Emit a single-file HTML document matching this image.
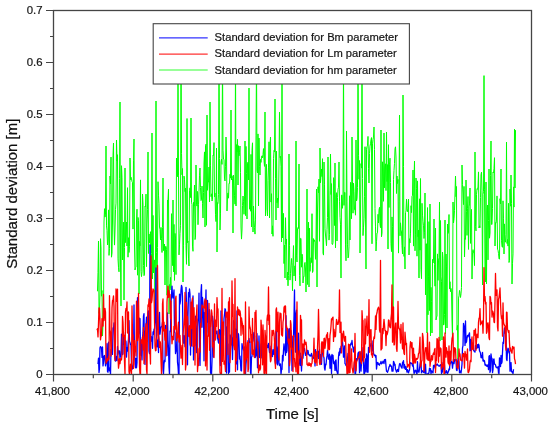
<!DOCTYPE html>
<html><head><meta charset="utf-8"><style>
html,body{margin:0;padding:0;background:#fff;width:550px;height:425px;overflow:hidden}
svg{display:block;filter:blur(0.35px);font-family:"Liberation Sans",Arial,sans-serif}
text{stroke:currentColor;stroke-width:0.2px}
</style></head><body>
<svg width="550" height="425" viewBox="0 0 550 425">
<defs><clipPath id="pc"><rect x="53.5" y="10.5" width="478.0" height="364.0"/></clipPath></defs>
<g clip-path="url(#pc)" fill="none" stroke-width="1.0" stroke-linejoin="round">
<polyline stroke="#00ff00" points="97.50,291.3 98.00,272.5 98.50,241.0 99.00,313.4 99.50,309.2 100.00,293.0 100.50,238.7 101.00,248.0 101.50,296.2 102.00,290.5 102.50,336.0 103.00,323.0 103.50,315.7 104.00,222.0 104.50,208.7 105.00,217.1 105.50,214.1 106.00,146.0 106.50,225.9 107.00,230.5 107.50,245.0 108.00,240.0 108.50,209.9 109.00,255.4 109.50,248.5 110.00,176.0 110.50,183.9 111.00,157.1 111.50,257.2 112.00,253.0 112.50,221.0 113.00,155.8 113.50,143.0 114.00,223.0 114.50,245.1 115.00,230.0 115.50,209.4 116.00,203.1 116.50,140.0 117.00,161.0 117.50,154.7 118.00,258.9 118.50,267.3 119.00,271.8 119.50,178.5 120.00,102.0 120.50,263.0 121.00,306.0 121.50,165.7 122.00,177.8 122.50,260.0 123.00,237.9 123.50,222.2 124.00,300.0 124.50,247.5 125.00,168.0 125.50,242.6 126.00,232.2 126.50,222.0 127.00,246.0 127.50,187.7 128.00,257.2 128.50,237.7 129.00,252.5 129.50,246.7 130.00,158.0 130.50,179.7 131.00,177.2 131.50,178.9 132.00,181.5 132.50,182.3 133.00,229.1 133.50,160.8 134.00,139.0 134.50,245.0 135.00,270.0 135.50,267.6 136.00,267.1 136.50,221.0 137.00,209.2 137.50,275.2 138.00,217.4 138.50,220.6 139.00,294.0 139.50,241.4 140.00,245.8 140.50,179.9 141.00,271.4 141.50,276.6 142.00,271.9 142.50,194.0 143.00,204.0 143.50,265.6 144.00,275.7 144.50,274.0 145.00,206.2 145.50,207.0 146.00,194.1 146.50,266.6 147.00,224.0 147.50,209.5 148.00,152.0 148.50,253.5 149.00,234.0 149.50,242.9 150.00,237.8 150.50,231.7 151.00,300.0 151.50,253.5 152.00,133.0 152.50,278.9 153.00,215.4 153.50,273.0 154.00,263.6 154.50,259.9 155.00,310.0 155.50,257.0 156.00,101.0 156.50,252.7 157.00,300.0 157.50,247.6 158.00,181.7 158.50,195.8 159.00,203.7 159.50,227.0 160.00,229.5 160.50,239.9 161.00,227.4 161.50,238.3 162.00,252.5 162.50,227.6 163.00,178.0 163.50,250.6 164.00,248.0 164.50,244.0 165.00,285.0 165.50,246.6 166.00,246.2 166.50,249.6 167.00,295.3 167.50,200.0 168.00,199.4 168.50,189.2 169.00,314.0 169.50,284.5 170.00,288.3 170.50,277.4 171.00,290.0 171.50,213.7 172.00,251.1 172.50,265.6 173.00,200.0 173.50,271.8 174.00,224.4 174.50,280.4 175.00,233.4 175.50,238.1 176.00,274.6 176.50,158.0 177.00,174.3 177.50,176.7 178.00,70.0 178.50,175.1 179.00,254.9 179.50,244.8 180.00,233.6 180.50,225.8 181.00,40.0 181.50,153.3 182.00,174.8 182.50,168.5 183.00,282.0 183.50,245.1 184.00,176.1 184.50,179.6 185.00,191.6 185.50,188.1 186.00,245.4 186.50,264.3 187.00,118.5 187.50,242.7 188.00,241.1 188.50,258.1 189.00,266.0 189.50,190.6 190.00,187.8 190.50,197.6 191.00,118.0 191.50,202.2 192.00,204.6 192.50,246.1 193.00,251.3 193.50,202.3 194.00,206.1 194.50,185.0 195.00,239.6 195.50,237.1 196.00,165.0 196.50,204.3 197.00,206.1 197.50,191.4 198.00,224.7 198.50,204.8 199.00,191.6 199.50,175.8 200.00,168.0 200.50,187.5 201.00,200.6 201.50,199.7 202.00,186.1 202.50,203.7 203.00,218.0 203.50,192.3 204.00,163.0 204.50,151.9 205.00,227.0 205.50,145.5 206.00,144.2 206.50,225.3 207.00,115.0 207.50,190.3 208.00,181.7 208.50,182.2 209.00,167.0 209.50,201.9 210.00,102.0 210.50,165.9 211.00,196.6 211.50,193.8 212.00,201.0 212.50,199.7 213.00,155.0 213.50,155.6 214.00,142.6 214.50,196.9 215.00,193.1 215.50,214.4 216.00,221.6 216.50,148.1 217.00,252.0 217.50,202.6 218.00,203.4 218.50,194.4 219.00,60.0 219.50,158.7 220.00,230.0 220.50,213.1 221.00,161.9 221.50,159.1 222.00,164.4 222.50,60.0 223.00,150.2 223.50,159.1 224.00,159.8 224.50,178.0 225.00,181.0 225.50,166.2 226.00,137.0 226.50,154.0 227.00,211.0 227.50,196.0 228.00,192.9 228.50,198.2 229.00,183.3 229.50,183.5 230.00,174.3 230.50,178.1 231.00,110.0 231.50,180.0 232.00,175.7 232.50,178.6 233.00,233.0 233.50,175.1 234.00,185.6 234.50,195.6 235.00,204.2 235.50,60.0 236.00,206.0 236.50,144.6 237.00,152.1 237.50,139.3 238.00,185.0 238.50,145.7 239.00,155.9 239.50,152.4 240.00,146.0 240.50,172.8 241.00,227.0 241.50,239.1 242.00,230.0 242.50,205.6 243.00,196.0 243.50,201.3 244.00,214.3 244.50,196.9 245.00,141.0 245.50,215.6 246.00,146.4 246.50,173.6 247.00,219.0 247.50,163.2 248.00,162.2 248.50,180.0 249.00,88.0 249.50,209.2 250.00,200.2 250.50,211.2 251.00,154.4 251.50,226.9 252.00,150.3 252.50,142.8 253.00,232.0 253.50,206.0 254.00,220.7 254.50,227.6 255.00,234.1 255.50,219.1 256.00,135.9 256.50,60.0 257.00,170.2 257.50,173.0 258.00,133.9 258.50,206.0 259.00,138.0 259.50,166.5 260.00,175.0 260.50,159.4 261.00,162.4 261.50,157.1 262.00,155.8 262.50,157.9 263.00,154.5 263.50,148.6 264.00,160.6 264.50,166.4 265.00,112.0 265.50,215.9 266.00,172.5 266.50,164.4 267.00,209.0 267.50,215.9 268.00,180.4 268.50,167.1 269.00,141.8 269.50,217.9 270.00,145.0 270.50,137.0 271.00,202.1 271.50,193.7 272.00,234.0 272.50,225.8 273.00,236.3 273.50,158.7 274.00,150.4 274.50,152.0 275.00,99.0 275.50,178.7 276.00,220.0 276.50,151.2 277.00,202.8 277.50,198.2 278.00,208.0 278.50,199.0 279.00,163.0 279.50,112.0 280.00,157.5 280.50,156.3 281.00,166.3 281.50,242.0 282.00,60.0 282.50,237.9 283.00,225.2 283.50,213.4 284.00,263.6 284.50,245.2 285.00,278.0 285.50,217.7 286.00,244.0 286.50,239.0 287.00,279.9 287.50,272.1 288.00,285.8 288.50,275.3 289.00,154.0 289.50,245.2 290.00,280.1 290.50,273.5 291.00,266.0 291.50,258.5 292.00,265.5 292.50,290.7 293.00,262.7 293.50,245.6 294.00,276.0 294.50,267.6 295.00,265.8 295.50,281.0 296.00,141.0 296.50,255.9 297.00,262.0 297.50,228.3 298.00,227.5 298.50,228.5 299.00,164.0 299.50,275.5 300.00,285.9 300.50,238.3 301.00,238.5 301.50,267.2 302.00,254.1 302.50,256.2 303.00,283.0 303.50,276.6 304.00,276.8 304.50,264.1 305.00,262.4 305.50,269.0 306.00,292.0 306.50,259.0 307.00,189.0 307.50,284.5 308.00,231.6 308.50,222.2 309.00,287.0 309.50,228.2 310.00,271.4 310.50,264.7 311.00,257.7 311.50,262.5 312.00,213.7 312.50,272.5 313.00,271.0 313.50,238.6 314.00,241.6 314.50,239.9 315.00,242.0 315.50,259.3 316.00,239.9 316.50,189.0 317.00,287.0 317.50,210.0 318.00,186.8 318.50,192.8 319.00,179.0 319.50,241.3 320.00,148.0 320.50,182.8 321.00,174.9 321.50,169.1 322.00,176.6 322.50,158.7 323.00,253.0 323.50,255.1 324.00,162.0 324.50,184.8 325.00,228.8 325.50,235.0 326.00,239.9 326.50,245.7 327.00,229.4 327.50,217.6 328.00,157.0 328.50,215.0 329.00,240.1 329.50,234.6 330.00,190.2 330.50,154.0 331.00,194.5 331.50,183.6 332.00,244.1 332.50,244.6 333.00,242.6 333.50,177.7 334.00,179.8 334.50,225.5 335.00,163.0 335.50,247.8 336.00,195.9 336.50,192.7 337.00,241.0 337.50,197.5 338.00,189.3 338.50,187.3 339.00,162.0 339.50,201.2 340.00,217.3 340.50,224.2 341.00,278.0 341.50,195.2 342.00,194.9 342.50,208.3 343.00,198.0 343.50,60.0 344.00,205.4 344.50,192.4 345.00,192.4 345.50,244.9 346.00,260.8 346.50,131.0 347.00,201.9 347.50,244.9 348.00,258.0 348.50,257.2 349.00,246.9 349.50,195.8 350.00,240.0 350.50,182.4 351.00,185.0 351.50,218.7 352.00,137.0 352.50,181.8 353.00,213.2 353.50,183.2 354.00,191.7 354.50,209.6 355.00,209.2 355.50,215.2 356.00,140.0 356.50,201.0 357.00,198.8 357.50,187.7 358.00,60.0 358.50,155.2 359.00,179.3 359.50,160.5 360.00,253.0 360.50,217.0 361.00,163.6 361.50,168.1 362.00,60.0 362.50,178.5 363.00,235.6 363.50,227.2 364.00,218.8 364.50,196.7 365.00,146.7 365.50,219.9 366.00,269.0 366.50,149.2 367.00,146.6 367.50,145.8 368.00,136.4 368.50,168.6 369.00,183.0 369.50,153.4 370.00,146.1 370.50,143.8 371.00,139.6 371.50,137.6 372.00,243.8 372.50,143.8 373.00,139.3 373.50,137.1 374.00,127.0 374.50,149.5 375.00,208.6 375.50,226.9 376.00,251.0 376.50,241.8 377.00,233.0 377.50,232.8 378.00,214.3 378.50,222.9 379.00,210.1 379.50,207.3 380.00,223.9 380.50,227.7 381.00,130.0 381.50,236.8 382.00,233.1 382.50,161.8 383.00,167.8 383.50,201.3 384.00,133.0 384.50,187.8 385.00,166.8 385.50,163.8 386.00,190.6 386.50,132.0 387.00,181.6 387.50,164.6 388.00,249.0 388.50,144.7 389.00,207.5 389.50,164.2 390.00,158.2 390.50,182.5 391.00,243.7 391.50,251.6 392.00,216.9 392.50,226.4 393.00,312.0 393.50,179.6 394.00,170.3 394.50,163.3 395.00,148.7 395.50,146.8 396.00,157.0 396.50,193.5 397.00,176.0 397.50,183.5 398.00,179.4 398.50,253.1 399.00,201.8 399.50,115.0 400.00,235.8 400.50,222.8 401.00,229.7 401.50,232.0 402.00,245.7 402.50,254.0 403.00,95.0 403.50,166.4 404.00,256.4 404.50,246.9 405.00,269.0 405.50,212.6 406.00,211.0 406.50,199.0 407.00,209.7 407.50,211.7 408.00,208.4 408.50,199.1 409.00,255.0 409.50,238.7 410.00,242.9 410.50,233.1 411.00,205.7 411.50,212.6 412.00,196.3 412.50,195.4 413.00,170.0 413.50,246.1 414.00,180.0 414.50,161.0 415.00,250.8 415.50,234.1 416.00,178.0 416.50,188.7 417.00,256.2 417.50,180.9 418.00,236.7 418.50,230.0 419.00,278.0 419.50,198.8 420.00,250.2 420.50,178.5 421.00,269.5 421.50,278.7 422.00,203.3 422.50,215.2 423.00,221.2 423.50,225.8 424.00,238.5 424.50,232.2 425.00,193.0 425.50,294.8 426.00,243.7 426.50,243.9 427.00,333.0 427.50,207.6 428.00,314.8 428.50,276.9 429.00,221.6 429.50,310.6 430.00,204.0 430.50,335.9 431.00,287.4 431.50,301.5 432.00,333.0 432.50,259.4 433.00,263.0 433.50,259.0 434.00,219.0 434.50,264.5 435.00,286.2 435.50,228.1 436.00,320.0 436.50,317.1 437.00,316.0 437.50,253.9 438.00,280.4 438.50,260.1 439.00,257.7 439.50,202.0 440.00,341.1 440.50,220.5 441.00,276.9 441.50,281.3 442.00,340.0 442.50,252.1 443.00,258.4 443.50,325.1 444.00,324.4 444.50,314.4 445.00,220.0 445.50,333.8 446.00,254.0 446.50,266.1 447.00,328.0 447.50,224.0 448.00,233.5 448.50,232.2 449.00,214.5 449.50,288.9 450.00,281.7 450.50,291.7 451.00,288.4 451.50,291.9 452.00,320.0 452.50,337.2 453.00,202.0 453.50,223.0 454.00,218.8 454.50,210.3 455.00,193.0 455.50,176.0 456.00,196.7 456.50,186.5 457.00,330.2 457.50,325.4 458.00,359.0 458.50,298.1 459.00,295.8 459.50,290.4 460.00,293.1 460.50,297.5 461.00,293.9 461.50,287.4 462.00,165.0 462.50,184.4 463.00,193.0 463.50,204.6 464.00,186.4 464.50,257.0 465.00,238.0 465.50,239.4 466.00,180.0 466.50,211.3 467.00,235.4 467.50,208.3 468.00,196.5 468.50,249.4 469.00,206.9 469.50,203.9 470.00,188.0 470.50,243.4 471.00,217.8 471.50,209.4 472.00,279.0 472.50,252.2 473.00,249.6 473.50,252.0 474.00,253.9 474.50,265.6 475.00,152.0 475.50,226.7 476.00,230.9 476.50,194.3 477.00,188.8 477.50,189.4 478.00,187.0 478.50,171.9 479.00,228.0 479.50,225.8 480.00,227.7 480.50,197.3 481.00,174.8 481.50,172.2 482.00,190.6 482.50,285.0 483.00,194.4 483.50,191.7 484.00,75.6 484.50,189.9 485.00,272.6 485.50,281.9 486.00,182.0 486.50,284.0 487.00,210.9 487.50,205.0 488.00,259.9 488.50,220.5 489.00,169.0 489.50,238.2 490.00,233.0 490.50,175.4 491.00,141.0 491.50,224.4 492.00,224.5 492.50,208.3 493.00,172.0 493.50,172.9 494.00,168.5 494.50,157.7 495.00,246.0 495.50,222.6 496.00,223.1 496.50,219.0 497.00,195.9 497.50,249.2 498.00,250.2 498.50,253.3 499.00,258.7 499.50,259.2 500.00,198.7 500.50,203.9 501.00,169.0 501.50,240.8 502.00,246.5 502.50,247.3 503.00,200.8 503.50,218.8 504.00,254.0 504.50,223.9 505.00,241.2 505.50,242.2 506.00,234.6 506.50,142.0 507.00,243.5 507.50,239.5 508.00,246.1 508.50,203.3 509.00,262.5 509.50,260.6 510.00,189.1 510.50,206.2 511.00,175.0 511.50,203.3 512.00,284.0 512.50,263.3 513.00,253.9 513.50,186.9 514.00,207.1 514.50,129.0 515.00,188.0 515.50,130.1"/>
<polyline stroke="#0000ff" stroke-width="1.3" points="98.00,364.1 98.50,358.2 99.00,372.4 99.50,368.2 100.00,347.7 100.50,346.6 101.00,347.2 101.50,348.3 102.00,357.4 102.50,347.0 103.00,365.9 103.50,362.1 104.00,356.4 104.50,355.5 105.00,358.4 105.50,365.8 106.00,362.4 106.50,363.6 107.00,343.7 107.50,371.4 108.00,372.3 108.50,342.1 109.00,368.9 109.50,370.8 110.00,368.0 110.50,374.5 111.00,349.4 111.50,352.0 112.00,346.6 112.50,354.4 113.00,327.9 113.50,329.4 114.00,322.9 114.50,335.6 115.00,358.7 115.50,361.2 116.00,359.4 116.50,356.4 117.00,360.7 117.50,346.5 118.00,354.2 118.50,351.3 119.00,350.8 119.50,350.8 120.00,358.8 120.50,354.2 121.00,356.4 121.50,334.2 122.00,346.2 122.50,354.5 123.00,354.0 123.50,332.1 124.00,343.2 124.50,344.7 125.00,343.5 125.50,340.5 126.00,341.6 126.50,357.1 127.00,347.9 127.50,351.1 128.00,344.6 128.50,338.6 129.00,320.6 129.50,341.3 130.00,342.7 130.50,344.6 131.00,345.1 131.50,364.1 132.00,367.3 132.50,369.0 133.00,367.6 133.50,359.4 134.00,305.0 134.50,357.4 135.00,358.3 135.50,367.8 136.00,358.3 136.50,367.8 137.00,362.6 137.50,297.7 138.00,336.2 138.50,334.9 139.00,332.7 139.50,318.1 140.00,318.7 140.50,355.2 141.00,342.9 141.50,352.4 142.00,359.9 142.50,337.9 143.00,332.4 143.50,315.8 144.00,313.7 144.50,358.4 145.00,364.4 145.50,331.2 146.00,325.7 146.50,317.1 147.00,323.8 147.50,317.2 148.00,312.7 148.50,310.9 149.00,351.1 149.50,353.5 150.00,245.0 150.50,328.4 151.00,341.0 151.50,336.6 152.00,340.8 152.50,348.3 153.00,332.0 153.50,334.3 154.00,329.3 154.50,328.6 155.00,322.7 155.50,320.6 156.00,268.0 156.50,346.7 157.00,346.8 157.50,341.5 158.00,339.4 158.50,352.6 159.00,317.6 159.50,312.3 160.00,334.2 160.50,329.5 161.00,327.1 161.50,326.8 162.00,326.0 162.50,322.0 163.00,369.3 163.50,373.8 164.00,363.8 164.50,360.1 165.00,361.6 165.50,325.3 166.00,326.2 166.50,337.5 167.00,355.4 167.50,312.8 168.00,340.6 168.50,348.1 169.00,366.9 169.50,374.5 170.00,330.9 170.50,331.7 171.00,302.1 171.50,295.1 172.00,286.1 172.50,296.4 173.00,298.0 173.50,294.8 174.00,290.0 174.50,332.1 175.00,332.9 175.50,353.5 176.00,351.0 176.50,349.2 177.00,335.2 177.50,362.2 178.00,366.3 178.50,374.5 179.00,374.5 179.50,294.2 180.00,304.0 180.50,300.6 181.00,290.1 181.50,285.3 182.00,287.2 182.50,296.9 183.00,339.8 183.50,343.1 184.00,335.7 184.50,339.8 185.00,346.6 185.50,328.8 186.00,287.3 186.50,304.2 187.00,320.9 187.50,364.8 188.00,314.9 188.50,292.6 189.00,296.8 189.50,289.0 190.00,294.2 190.50,355.0 191.00,326.7 191.50,345.9 192.00,327.2 192.50,321.6 193.00,296.0 193.50,359.9 194.00,342.7 194.50,346.0 195.00,345.4 195.50,316.2 196.00,318.1 196.50,352.5 197.00,350.3 197.50,326.5 198.00,319.0 198.50,320.1 199.00,293.1 199.50,355.3 200.00,365.4 200.50,332.1 201.00,292.0 201.50,284.6 202.00,327.2 202.50,297.5 203.00,304.1 203.50,318.0 204.00,360.8 204.50,312.6 205.00,319.3 205.50,307.8 206.00,290.0 206.50,338.9 207.00,331.7 207.50,300.5 208.00,312.3 208.50,322.6 209.00,323.5 209.50,309.7 210.00,321.5 210.50,372.1 211.00,374.5 211.50,374.5 212.00,360.8 212.50,316.1 213.00,320.2 213.50,357.0 214.00,348.0 214.50,320.8 215.00,332.9 215.50,330.8 216.00,331.7 216.50,333.6 217.00,330.8 217.50,338.4 218.00,339.6 218.50,343.0 219.00,337.3 219.50,329.7 220.00,356.2 220.50,365.6 221.00,311.0 221.50,350.4 222.00,344.4 222.50,352.2 223.00,331.9 223.50,335.5 224.00,318.5 224.50,314.7 225.00,308.7 225.50,309.7 226.00,331.8 226.50,373.0 227.00,326.8 227.50,343.4 228.00,344.1 228.50,373.5 229.00,367.4 229.50,372.1 230.00,334.8 230.50,336.3 231.00,344.9 231.50,344.9 232.00,337.8 232.50,359.6 233.00,332.8 233.50,320.7 234.00,322.6 234.50,335.2 235.00,337.8 235.50,329.0 236.00,335.9 236.50,363.9 237.00,311.0 237.50,369.8 238.00,333.5 238.50,334.1 239.00,341.6 239.50,359.1 240.00,356.1 240.50,362.9 241.00,370.7 241.50,370.9 242.00,343.6 242.50,347.3 243.00,346.9 243.50,350.1 244.00,348.6 244.50,346.9 245.00,367.3 245.50,374.2 246.00,364.1 246.50,358.5 247.00,355.6 247.50,345.6 248.00,340.7 248.50,340.2 249.00,338.3 249.50,342.5 250.00,341.8 250.50,372.7 251.00,374.3 251.50,357.1 252.00,356.3 252.50,342.0 253.00,341.0 253.50,334.9 254.00,332.3 254.50,336.4 255.00,357.7 255.50,357.1 256.00,355.5 256.50,335.7 257.00,333.7 257.50,367.8 258.00,357.4 258.50,355.0 259.00,336.0 259.50,357.4 260.00,354.3 260.50,358.3 261.00,345.0 261.50,343.4 262.00,357.9 262.50,353.2 263.00,351.1 263.50,351.6 264.00,351.5 264.50,354.1 265.00,361.0 265.50,370.7 266.00,335.8 266.50,344.4 267.00,345.4 267.50,347.5 268.00,347.3 268.50,343.5 269.00,348.2 269.50,352.5 270.00,348.7 270.50,353.3 271.00,346.2 271.50,349.8 272.00,356.4 272.50,356.6 273.00,349.7 273.50,351.0 274.00,354.3 274.50,343.5 275.00,360.1 275.50,363.6 276.00,331.0 276.50,331.2 277.00,363.3 277.50,364.9 278.00,348.1 278.50,345.9 279.00,363.0 279.50,365.5 280.00,364.3 280.50,363.9 281.00,374.4 281.50,369.8 282.00,369.5 282.50,355.4 283.00,360.9 283.50,350.4 284.00,343.8 284.50,348.6 285.00,350.7 285.50,355.3 286.00,315.7 286.50,352.7 287.00,350.6 287.50,338.9 288.00,328.8 288.50,335.3 289.00,372.5 289.50,329.0 290.00,328.6 290.50,330.0 291.00,330.6 291.50,336.3 292.00,370.7 292.50,368.1 293.00,336.1 293.50,337.3 294.00,316.4 294.50,290.0 295.00,339.8 295.50,352.2 296.00,313.5 296.50,310.2 297.00,361.0 297.50,357.2 298.00,353.0 298.50,333.2 299.00,349.6 299.50,363.2 300.00,365.4 300.50,353.2 301.00,359.5 301.50,371.0 302.00,357.4 302.50,355.8 303.00,358.1 303.50,349.8 304.00,350.3 304.50,348.3 305.00,352.0 305.50,355.4 306.00,353.2 306.50,354.8 307.00,354.4 307.50,350.4 308.00,350.6 308.50,353.7 309.00,355.0 309.50,354.8 310.00,356.1 310.50,355.2 311.00,355.7 311.50,353.4 312.00,355.3 312.50,359.3 313.00,358.1 313.50,356.8 314.00,358.3 314.50,350.5 315.00,365.9 315.50,349.6 316.00,355.5 316.50,354.5 317.00,353.3 317.50,356.6 318.00,351.1 318.50,358.5 319.00,355.1 319.50,349.6 320.00,364.1 320.50,354.7 321.00,362.5 321.50,364.3 322.00,352.6 322.50,350.7 323.00,351.2 323.50,356.5 324.00,357.7 324.50,368.2 325.00,370.1 325.50,364.2 326.00,364.8 326.50,359.1 327.00,355.9 327.50,350.3 328.00,354.4 328.50,358.8 329.00,359.4 329.50,354.2 330.00,368.3 330.50,368.0 331.00,355.9 331.50,373.4 332.00,354.3 332.50,357.1 333.00,355.3 333.50,363.3 334.00,363.8 334.50,361.8 335.00,370.4 335.50,360.4 336.00,360.0 336.50,371.0 337.00,371.2 337.50,373.7 338.00,373.4 338.50,357.0 339.00,352.2 339.50,355.1 340.00,348.4 340.50,352.8 341.00,346.2 341.50,346.5 342.00,343.9 342.50,341.5 343.00,346.7 343.50,357.2 344.00,355.6 344.50,345.8 345.00,363.7 345.50,363.8 346.00,365.5 346.50,364.6 347.00,365.3 347.50,359.5 348.00,353.3 348.50,355.5 349.00,347.2 349.50,358.6 350.00,345.9 350.50,345.2 351.00,343.2 351.50,344.1 352.00,340.5 352.50,345.9 353.00,347.5 353.50,351.8 354.00,348.4 354.50,346.8 355.00,373.4 355.50,374.3 356.00,368.4 356.50,358.6 357.00,359.2 357.50,359.1 358.00,353.4 358.50,352.2 359.00,354.6 359.50,372.7 360.00,351.9 360.50,354.1 361.00,371.1 361.50,362.4 362.00,360.2 362.50,360.1 363.00,347.6 363.50,363.9 364.00,374.0 364.50,374.0 365.00,362.0 365.50,359.0 366.00,372.1 366.50,353.8 367.00,355.6 367.50,372.2 368.00,372.2 368.50,347.5 369.00,350.4 369.50,351.5 370.00,346.3 370.50,346.0 371.00,343.5 371.50,345.3 372.00,351.1 372.50,349.5 373.00,341.0 373.50,353.2 374.00,354.7 374.50,355.4 375.00,355.0 375.50,357.1 376.00,355.6 376.50,369.0 377.00,364.6 377.50,362.4 378.00,362.8 378.50,364.5 379.00,364.4 379.50,365.2 380.00,363.4 380.50,363.3 381.00,361.4 381.50,363.8 382.00,363.4 382.50,362.7 383.00,361.1 383.50,362.4 384.00,363.6 384.50,359.7 385.00,360.2 385.50,359.5 386.00,366.2 386.50,371.3 387.00,371.2 387.50,372.3 388.00,370.7 388.50,369.4 389.00,367.0 389.50,366.4 390.00,364.4 390.50,365.7 391.00,366.3 391.50,366.1 392.00,371.1 392.50,370.2 393.00,371.1 393.50,361.3 394.00,362.2 394.50,365.2 395.00,364.4 395.50,369.4 396.00,370.3 396.50,372.2 397.00,371.5 397.50,369.4 398.00,370.7 398.50,371.5 399.00,366.8 399.50,364.0 400.00,363.5 400.50,364.7 401.00,366.6 401.50,367.3 402.00,368.2 402.50,362.6 403.00,362.0 403.50,360.7 404.00,367.9 404.50,364.6 405.00,368.7 405.50,369.3 406.00,366.5 406.50,369.7 407.00,372.1 407.50,369.7 408.00,371.8 408.50,372.8 409.00,371.1 409.50,370.0 410.00,363.0 410.50,362.6 411.00,363.4 411.50,363.6 412.00,363.2 412.50,366.0 413.00,363.6 413.50,367.6 414.00,373.3 414.50,373.2 415.00,370.7 415.50,370.2 416.00,370.9 416.50,372.9 417.00,374.5 417.50,361.7 418.00,371.6 418.50,372.0 419.00,372.1 419.50,368.8 420.00,364.5 420.50,362.2 421.00,363.3 421.50,372.8 422.00,371.4 422.50,370.8 423.00,371.7 423.50,372.3 424.00,372.2 424.50,364.5 425.00,373.1 425.50,364.1 426.00,373.7 426.50,374.4 427.00,374.5 427.50,374.5 428.00,373.3 428.50,374.2 429.00,372.3 429.50,368.1 430.00,370.6 430.50,368.7 431.00,373.9 431.50,370.9 432.00,371.2 432.50,371.9 433.00,373.0 433.50,365.6 434.00,365.3 434.50,365.1 435.00,368.0 435.50,366.2 436.00,364.9 436.50,364.4 437.00,364.8 437.50,364.1 438.00,365.4 438.50,365.9 439.00,366.0 439.50,366.0 440.00,365.3 440.50,364.7 441.00,365.2 441.50,373.4 442.00,372.4 442.50,371.9 443.00,362.7 443.50,369.0 444.00,362.9 444.50,364.6 445.00,373.2 445.50,372.4 446.00,372.7 446.50,370.7 447.00,372.0 447.50,373.7 448.00,372.5 448.50,371.5 449.00,368.8 449.50,369.7 450.00,361.9 450.50,363.4 451.00,362.3 451.50,361.4 452.00,362.5 452.50,368.1 453.00,363.3 453.50,359.0 454.00,363.7 454.50,360.4 455.00,359.4 455.50,359.7 456.00,360.5 456.50,370.0 457.00,370.6 457.50,362.5 458.00,359.1 458.50,358.6 459.00,362.1 459.50,372.8 460.00,370.8 460.50,371.4 461.00,373.1 461.50,369.3 462.00,364.1 462.50,347.8 463.00,345.6 463.50,323.3 464.00,325.8 464.50,326.5 465.00,345.4 465.50,321.0 466.00,342.8 466.50,341.9 467.00,338.0 467.50,335.4 468.00,336.9 468.50,335.1 469.00,334.5 469.50,332.8 470.00,350.8 470.50,339.5 471.00,350.3 471.50,349.7 472.00,342.7 472.50,343.3 473.00,346.8 473.50,350.5 474.00,350.9 474.50,351.5 475.00,352.1 475.50,345.4 476.00,346.2 476.50,348.6 477.00,347.8 477.50,344.7 478.00,347.6 478.50,344.2 479.00,345.3 479.50,350.9 480.00,351.8 480.50,352.9 481.00,357.5 481.50,355.7 482.00,357.8 482.50,352.3 483.00,360.9 483.50,359.8 484.00,361.5 484.50,360.8 485.00,365.0 485.50,364.5 486.00,365.7 486.50,365.1 487.00,366.4 487.50,366.3 488.00,364.7 488.50,369.6 489.00,356.4 489.50,355.6 490.00,372.4 490.50,370.5 491.00,354.0 491.50,358.1 492.00,358.3 492.50,372.6 493.00,369.7 493.50,359.5 494.00,359.0 494.50,364.2 495.00,364.2 495.50,364.9 496.00,367.0 496.50,367.1 497.00,367.9 497.50,367.8 498.00,366.7 498.50,373.0 499.00,373.6 499.50,357.8 500.00,365.3 500.50,366.6 501.00,355.5 501.50,363.6 502.00,362.1 502.50,352.5 503.00,342.2 503.50,343.5 504.00,332.5 504.50,328.0 505.00,333.1 505.50,331.3 506.00,336.4 506.50,359.0 507.00,360.6 507.50,350.4 508.00,348.2 508.50,349.1 509.00,352.9 509.50,351.4 510.00,371.2 510.50,363.6 511.00,362.6 511.50,371.8 512.00,371.6 512.50,372.0 513.00,373.7 513.50,369.3"/>
<polyline stroke="#ff0000" stroke-width="1.3" points="97.00,330.3 97.50,328.7 98.00,336.9 98.50,323.2 99.00,308.0 99.50,308.1 100.00,320.8 100.50,339.8 101.00,335.6 101.50,335.9 102.00,318.7 102.50,322.0 103.00,326.1 103.50,294.5 104.00,320.5 104.50,315.4 105.00,308.5 105.50,312.2 106.00,363.3 106.50,362.0 107.00,361.4 107.50,358.7 108.00,360.3 108.50,356.4 109.00,359.0 109.50,295.6 110.00,329.9 110.50,332.4 111.00,356.0 111.50,347.8 112.00,307.9 112.50,300.6 113.00,299.8 113.50,295.8 114.00,306.1 114.50,350.3 115.00,360.5 115.50,340.8 116.00,289.0 116.50,301.4 117.00,293.2 117.50,289.1 118.00,357.0 118.50,368.1 119.00,364.1 119.50,358.7 120.00,363.6 120.50,359.6 121.00,358.4 121.50,360.0 122.00,355.0 122.50,316.5 123.00,321.7 123.50,336.2 124.00,335.0 124.50,362.0 125.00,373.9 125.50,312.0 126.00,308.4 126.50,310.7 127.00,302.0 127.50,333.0 128.00,316.7 128.50,311.9 129.00,371.6 129.50,374.5 130.00,369.8 130.50,364.2 131.00,368.3 131.50,374.0 132.00,306.0 132.50,334.2 133.00,335.0 133.50,368.4 134.00,364.0 134.50,340.5 135.00,351.5 135.50,347.3 136.00,355.9 136.50,301.2 137.00,310.5 137.50,340.7 138.00,335.2 138.50,293.5 139.00,327.5 139.50,366.3 140.00,374.3 140.50,374.5 141.00,339.6 141.50,341.1 142.00,343.1 142.50,336.8 143.00,349.9 143.50,327.4 144.00,363.7 144.50,354.2 145.00,340.3 145.50,333.8 146.00,323.7 146.50,369.7 147.00,373.9 147.50,324.4 148.00,304.9 148.50,306.4 149.00,299.0 149.50,303.4 150.00,352.9 150.50,364.0 151.00,256.0 151.50,302.6 152.00,299.8 152.50,293.0 153.00,289.0 153.50,290.9 154.00,290.2 154.50,319.5 155.00,346.3 155.50,350.8 156.00,350.4 156.50,338.6 157.00,338.7 157.50,265.5 158.00,312.3 158.50,335.5 159.00,339.1 159.50,347.5 160.00,341.4 160.50,343.0 161.00,361.2 161.50,374.5 162.00,363.8 162.50,303.7 163.00,299.0 163.50,330.9 164.00,322.2 164.50,334.3 165.00,340.1 165.50,329.5 166.00,356.0 166.50,351.7 167.00,301.6 167.50,294.4 168.00,286.1 168.50,297.4 169.00,290.7 169.50,295.8 170.00,294.5 170.50,318.3 171.00,301.2 171.50,332.5 172.00,343.8 172.50,337.2 173.00,336.3 173.50,339.7 174.00,326.3 174.50,329.3 175.00,329.2 175.50,299.0 176.00,296.1 176.50,340.8 177.00,338.4 177.50,337.9 178.00,327.6 178.50,322.1 179.00,342.1 179.50,339.3 180.00,335.5 180.50,348.9 181.00,358.2 181.50,350.0 182.00,345.4 182.50,364.6 183.00,334.3 183.50,329.1 184.00,323.1 184.50,317.3 185.00,292.5 185.50,370.0 186.00,364.8 186.50,302.3 187.00,317.8 187.50,316.5 188.00,326.4 188.50,336.0 189.00,336.6 189.50,325.7 190.00,344.0 190.50,346.1 191.00,302.2 191.50,328.6 192.00,300.8 192.50,298.0 193.00,346.3 193.50,345.1 194.00,307.7 194.50,328.4 195.00,365.1 195.50,324.6 196.00,318.4 196.50,313.8 197.00,304.9 197.50,371.6 198.00,363.2 198.50,365.6 199.00,348.9 199.50,347.7 200.00,352.0 200.50,323.3 201.00,327.1 201.50,312.0 202.00,305.0 202.50,306.2 203.00,306.8 203.50,307.8 204.00,308.0 204.50,302.0 205.00,298.8 205.50,365.9 206.00,342.6 206.50,300.5 207.00,370.1 207.50,336.9 208.00,336.4 208.50,334.1 209.00,303.3 209.50,350.3 210.00,327.0 210.50,326.8 211.00,316.2 211.50,310.0 212.00,313.6 212.50,346.9 213.00,342.7 213.50,351.7 214.00,357.5 214.50,303.9 215.00,339.7 215.50,340.0 216.00,319.8 216.50,326.4 217.00,297.6 217.50,312.1 218.00,308.9 218.50,337.6 219.00,334.8 219.50,335.1 220.00,372.0 220.50,374.5 221.00,374.5 221.50,374.5 222.00,288.5 222.50,361.4 223.00,325.5 223.50,321.8 224.00,364.2 224.50,360.8 225.00,364.5 225.50,371.4 226.00,311.9 226.50,315.7 227.00,317.2 227.50,312.1 228.00,354.6 228.50,302.0 229.00,305.9 229.50,297.7 230.00,362.7 230.50,350.6 231.00,345.5 231.50,336.7 232.00,281.0 232.50,316.3 233.00,304.3 233.50,344.8 234.00,346.6 234.50,349.7 235.00,278.6 235.50,371.4 236.00,338.7 236.50,360.6 237.00,348.8 237.50,307.0 238.00,310.2 238.50,314.6 239.00,309.7 239.50,315.5 240.00,310.9 240.50,314.7 241.00,335.3 241.50,317.8 242.00,322.0 242.50,323.9 243.00,334.0 243.50,325.6 244.00,373.4 244.50,373.0 245.00,374.5 245.50,302.0 246.00,360.0 246.50,357.4 247.00,350.0 247.50,342.3 248.00,371.6 248.50,368.6 249.00,307.0 249.50,324.6 250.00,327.5 250.50,329.3 251.00,342.3 251.50,334.8 252.00,353.8 252.50,318.5 253.00,354.4 253.50,350.0 254.00,356.3 254.50,357.4 255.00,312.5 255.50,317.2 256.00,310.5 256.50,337.2 257.00,339.8 257.50,348.2 258.00,342.0 258.50,372.8 259.00,368.2 259.50,365.1 260.00,370.2 260.50,368.3 261.00,320.1 261.50,328.0 262.00,338.5 262.50,364.8 263.00,324.8 263.50,340.3 264.00,372.8 264.50,374.5 265.00,330.4 265.50,337.1 266.00,373.0 266.50,374.5 267.00,319.6 267.50,315.0 268.00,320.0 268.50,287.0 269.00,324.5 269.50,315.1 270.00,355.3 270.50,361.8 271.00,360.2 271.50,351.2 272.00,330.4 272.50,335.5 273.00,331.1 273.50,330.4 274.00,333.3 274.50,341.4 275.00,361.2 275.50,368.4 276.00,309.9 276.50,308.0 277.00,330.2 277.50,331.7 278.00,312.2 278.50,354.3 279.00,360.0 279.50,322.7 280.00,313.0 280.50,314.4 281.00,313.8 281.50,335.1 282.00,328.6 282.50,336.1 283.00,322.0 283.50,319.1 284.00,307.8 284.50,306.1 285.00,312.0 285.50,306.0 286.00,327.3 286.50,325.6 287.00,330.7 287.50,328.3 288.00,340.6 288.50,343.6 289.00,339.1 289.50,365.7 290.00,360.5 290.50,320.7 291.00,324.4 291.50,347.5 292.00,349.5 292.50,348.4 293.00,371.6 293.50,335.3 294.00,358.7 294.50,358.5 295.00,366.8 295.50,363.5 296.00,371.8 296.50,337.7 297.00,302.0 297.50,374.1 298.00,374.2 298.50,374.5 299.00,351.0 299.50,351.4 300.00,358.1 300.50,315.3 301.00,323.6 301.50,319.9 302.00,365.2 302.50,354.1 303.00,344.0 303.50,353.6 304.00,350.6 304.50,340.0 305.00,344.6 305.50,342.6 306.00,342.1 306.50,346.6 307.00,364.5 307.50,364.0 308.00,365.7 308.50,365.3 309.00,362.6 309.50,365.3 310.00,364.5 310.50,363.7 311.00,366.6 311.50,364.0 312.00,363.1 312.50,357.3 313.00,356.3 313.50,354.6 314.00,338.1 314.50,361.8 315.00,361.7 315.50,363.0 316.00,353.1 316.50,351.8 317.00,365.4 317.50,347.6 318.00,334.7 318.50,309.5 319.00,331.1 319.50,362.7 320.00,364.6 320.50,363.2 321.00,362.5 321.50,343.4 322.00,341.7 322.50,352.2 323.00,342.4 323.50,356.5 324.00,338.6 324.50,338.3 325.00,348.3 325.50,343.2 326.00,339.4 326.50,335.0 327.00,337.1 327.50,332.6 328.00,350.0 328.50,344.3 329.00,338.6 329.50,349.6 330.00,335.2 330.50,331.9 331.00,326.3 331.50,318.9 332.00,319.8 332.50,317.9 333.00,317.1 333.50,341.4 334.00,329.4 334.50,333.8 335.00,336.9 335.50,336.1 336.00,326.9 336.50,319.5 337.00,321.5 337.50,324.4 338.00,324.4 338.50,322.3 339.00,317.9 339.50,289.8 340.00,332.5 340.50,326.2 341.00,322.2 341.50,352.9 342.00,333.8 342.50,341.2 343.00,334.8 343.50,331.1 344.00,335.9 344.50,341.2 345.00,338.4 345.50,336.3 346.00,353.2 346.50,362.5 347.00,374.2 347.50,374.5 348.00,365.8 348.50,344.2 349.00,373.0 349.50,344.7 350.00,372.4 350.50,360.8 351.00,360.9 351.50,348.9 352.00,367.3 352.50,369.3 353.00,373.0 353.50,371.3 354.00,362.6 354.50,360.3 355.00,333.5 355.50,366.7 356.00,370.8 356.50,362.2 357.00,360.6 357.50,359.7 358.00,358.9 358.50,357.1 359.00,357.6 359.50,354.0 360.00,351.4 360.50,361.6 361.00,360.5 361.50,363.6 362.00,310.7 362.50,319.6 363.00,320.5 363.50,361.7 364.00,358.2 364.50,357.4 365.00,318.8 365.50,343.9 366.00,326.6 366.50,326.7 367.00,316.2 367.50,335.5 368.00,332.5 368.50,333.0 369.00,299.6 369.50,352.3 370.00,330.0 370.50,334.0 371.00,329.6 371.50,354.8 372.00,353.5 372.50,357.3 373.00,352.8 373.50,340.6 374.00,337.0 374.50,338.4 375.00,331.5 375.50,315.8 376.00,329.4 376.50,314.5 377.00,312.8 377.50,309.4 378.00,308.3 378.50,307.2 379.00,309.5 379.50,329.9 380.00,332.1 380.50,260.3 381.00,350.0 381.50,349.0 382.00,348.4 382.50,328.6 383.00,333.6 383.50,325.6 384.00,319.4 384.50,324.6 385.00,330.7 385.50,330.4 386.00,345.5 386.50,331.5 387.00,334.8 387.50,333.1 388.00,330.3 388.50,320.0 389.00,320.3 389.50,325.8 390.00,327.3 390.50,327.7 391.00,318.3 391.50,313.2 392.00,285.0 392.50,342.2 393.00,333.8 393.50,306.9 394.00,344.9 394.50,344.6 395.00,328.9 395.50,323.4 396.00,322.9 396.50,348.4 397.00,351.3 397.50,330.4 398.00,301.5 398.50,325.2 399.00,328.6 399.50,328.6 400.00,331.2 400.50,343.0 401.00,324.5 401.50,339.4 402.00,339.2 402.50,348.8 403.00,322.8 403.50,347.9 404.00,353.5 404.50,354.5 405.00,332.2 405.50,338.8 406.00,344.8 406.50,343.3 407.00,361.9 407.50,367.1 408.00,365.6 408.50,364.9 409.00,364.2 409.50,368.2 410.00,347.0 410.50,341.7 411.00,342.9 411.50,347.8 412.00,342.6 412.50,358.1 413.00,363.7 413.50,348.1 414.00,363.2 414.50,354.3 415.00,357.4 415.50,362.9 416.00,360.0 416.50,358.4 417.00,359.4 417.50,358.5 418.00,357.9 418.50,353.5 419.00,353.1 419.50,346.7 420.00,337.2 420.50,366.9 421.00,365.5 421.50,361.6 422.00,360.3 422.50,333.3 423.00,336.7 423.50,344.9 424.00,371.2 424.50,363.7 425.00,352.6 425.50,347.9 426.00,347.7 426.50,351.4 427.00,359.0 427.50,333.0 428.00,360.2 428.50,359.2 429.00,360.5 429.50,342.2 430.00,366.3 430.50,361.9 431.00,361.4 431.50,355.6 432.00,359.2 432.50,360.0 433.00,354.4 433.50,353.0 434.00,354.4 434.50,349.7 435.00,348.4 435.50,372.5 436.00,360.5 436.50,360.5 437.00,338.6 437.50,339.6 438.00,344.2 438.50,362.2 439.00,337.5 439.50,356.2 440.00,348.4 440.50,348.0 441.00,348.8 441.50,369.0 442.00,364.7 442.50,366.9 443.00,364.7 443.50,336.9 444.00,373.6 444.50,374.5 445.00,333.0 445.50,353.0 446.00,357.2 446.50,347.7 447.00,353.1 447.50,351.3 448.00,362.0 448.50,363.8 449.00,345.8 449.50,365.6 450.00,363.9 450.50,351.1 451.00,360.4 451.50,345.6 452.00,338.5 452.50,336.6 453.00,333.1 453.50,361.5 454.00,357.7 454.50,347.7 455.00,348.1 455.50,349.0 456.00,360.7 456.50,359.8 457.00,367.4 457.50,366.7 458.00,368.8 458.50,364.8 459.00,349.0 459.50,356.0 460.00,353.9 460.50,359.9 461.00,360.3 461.50,359.9 462.00,361.0 462.50,354.4 463.00,356.7 463.50,353.3 464.00,356.6 464.50,368.1 465.00,351.4 465.50,354.0 466.00,354.6 466.50,360.1 467.00,356.8 467.50,349.0 468.00,372.3 468.50,372.6 469.00,371.2 469.50,369.1 470.00,362.0 470.50,360.1 471.00,361.7 471.50,342.1 472.00,336.8 472.50,349.1 473.00,346.3 473.50,349.8 474.00,330.3 474.50,335.1 475.00,332.3 475.50,328.9 476.00,350.3 476.50,340.2 477.00,334.2 477.50,335.8 478.00,337.7 478.50,322.3 479.00,318.4 479.50,317.5 480.00,308.6 480.50,324.8 481.00,323.4 481.50,323.6 482.00,321.0 482.50,321.3 483.00,333.2 483.50,315.9 484.00,267.6 484.50,300.9 485.00,296.3 485.50,303.9 486.00,302.4 486.50,333.3 487.00,331.8 487.50,323.6 488.00,322.8 488.50,326.0 489.00,337.8 489.50,339.7 490.00,296.3 490.50,297.4 491.00,303.9 491.50,302.6 492.00,317.1 492.50,311.1 493.00,311.9 493.50,314.1 494.00,322.0 494.50,322.6 495.00,301.4 495.50,273.5 496.00,295.4 496.50,292.4 497.00,289.8 497.50,326.8 498.00,330.8 498.50,299.3 499.00,297.3 499.50,293.1 500.00,288.0 500.50,302.3 501.00,314.0 501.50,318.7 502.00,316.2 502.50,336.2 503.00,302.8 503.50,322.3 504.00,324.0 504.50,325.4 505.00,326.1 505.50,345.8 506.00,350.2 506.50,312.2 507.00,312.3 507.50,329.1 508.00,330.6 508.50,332.5 509.00,330.7 509.50,342.6 510.00,350.9 510.50,348.0 511.00,350.7 511.50,351.9 512.00,353.2 512.50,346.5 513.00,346.9 513.50,348.8 514.00,347.1 514.50,358.8 515.00,360.4 515.50,364.1"/>
</g>
<rect x="53.5" y="10.5" width="478.0" height="364.0" fill="none" stroke="#454545" stroke-width="1.3"/>
<path d="M46 374.5H53.5 M50 348.5H53.5 M46 322.5H53.5 M50 296.5H53.5 M46 270.5H53.5 M50 244.5H53.5 M46 218.5H53.5 M50 192.5H53.5 M46 166.5H53.5 M50 140.5H53.5 M46 114.5H53.5 M50 88.5H53.5 M46 62.5H53.5 M50 36.5H53.5 M46 10.5H53.5 M53.5 374.5V381.5 M93.3 374.5V378.3 M133.2 374.5V381.5 M173.0 374.5V378.3 M212.8 374.5V381.5 M252.7 374.5V378.3 M292.5 374.5V381.5 M332.3 374.5V378.3 M372.2 374.5V381.5 M412.0 374.5V378.3 M451.8 374.5V381.5 M491.7 374.5V378.3 M531.5 374.5V381.5" stroke="#454545" stroke-width="1.2" fill="none"/>
<g font-size="11.4" fill="#222"><text x="42.5" y="378.4" text-anchor="end">0</text><text x="42.5" y="326.4" text-anchor="end">0.1</text><text x="42.5" y="274.4" text-anchor="end">0.2</text><text x="42.5" y="222.4" text-anchor="end">0.3</text><text x="42.5" y="170.4" text-anchor="end">0.4</text><text x="42.5" y="118.4" text-anchor="end">0.5</text><text x="42.5" y="66.4" text-anchor="end">0.6</text><text x="42.5" y="14.4" text-anchor="end">0.7</text><text x="52.5" y="394.8" text-anchor="middle">41,800</text><text x="132.2" y="394.8" text-anchor="middle">42,000</text><text x="211.8" y="394.8" text-anchor="middle">42,200</text><text x="291.5" y="394.8" text-anchor="middle">42,400</text><text x="371.2" y="394.8" text-anchor="middle">42,600</text><text x="450.8" y="394.8" text-anchor="middle">42,800</text><text x="530.5" y="394.8" text-anchor="middle">43,000</text></g>
<text x="292.4" y="419" font-size="15" text-anchor="middle" fill="#111">Time [s]</text>
<text transform="translate(17,193.6) rotate(-90)" font-size="15" text-anchor="middle" fill="#111">Standard deviation [m]</text>
<rect x="153.2" y="23.7" width="256.2" height="60.3" fill="#fff" stroke="#454545" stroke-width="1.1"/><path d="M159 37.9H207.7" stroke="#3333ff" stroke-width="1.1"/><text x="214.6" y="40.8" font-size="11.2" fill="#222">Standard deviation for Bm parameter</text><path d="M159 54.1H207.7" stroke="#ff3333" stroke-width="1.1"/><text x="214.6" y="57.3" font-size="11.2" fill="#222">Standard deviation for Lm parameter</text><path d="M159 70.0H207.7" stroke="#33ff33" stroke-width="1.1"/><text x="214.6" y="73.9" font-size="11.2" fill="#222">Standard deviation for hm parameter</text>
</svg>
</body></html>
